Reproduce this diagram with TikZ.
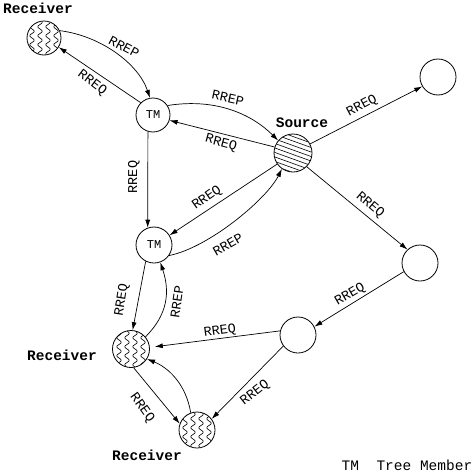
\documentclass[tikz,border=0pt]{standalone}
\usepackage{fontspec}
\setmonofont{Liberation Mono}
\usetikzlibrary{arrows.meta}
\newcommand{\wavyfillx}[2]{%
  \begin{scope}
    \clip (#1.center) circle[radius=#2];
    \foreach \dx in {-12,-4,4,12}
      \draw[line width=0.6pt,shift={(#1.center)}] plot[domain=-24:24,samples=60,smooth] ({\dx+2.2*sin(\x*40)},\x);
  \end{scope}}
\begin{document}
\begin{tikzpicture}[x=1pt,y=-1pt,
  lbl/.style={font=\ttfamily\fontsize{13.5}{14}\selectfont, inner sep=0pt},
  ttl/.style={font=\ttfamily\bfseries\fontsize{14.5}{15}\selectfont, inner sep=0pt},
  nd/.style={circle,draw,line width=0.8pt,inner sep=0pt,minimum size=#1,font=\ttfamily\fontsize{12}{12}\selectfont},
  nd/.default=35pt,
  arr/.style={line width=0.7pt,-{Latex[length=8pt,width=5pt]}}]
\useasboundingbox[fill=white] (0,0) rectangle (474,474);

% nodes
\node[nd=34pt] (r1) at (44,38) {};
\node[nd=34pt] (tm1) at (153,115) {TM};
\node[nd=38pt] (src) at (293,153) {};
\node[nd=36pt] (n1) at (438,77) {};
\node[nd=36pt] (tm2) at (154,245) {TM};
\node[nd=36pt] (n2) at (420,263) {};
\node[nd=36pt] (n3) at (298,335) {};
\node[nd=37pt] (r2) at (131,349) {};
\node[nd=36pt] (r3) at (197,430) {};

% fills
\wavyfillx{r1}{16.6pt}
\wavyfillx{r2}{18.1pt}
\wavyfillx{r3}{17.6pt}
\begin{scope}
  \clip (src.center) circle[radius=18.6pt];
  \foreach \c in {-30,-25.5,...,30}
    \draw[line width=0.6pt,shift={(src.center)}] (-25,{\c-9}) -- (25,{\c+9});
\end{scope}

% connectors
\draw[arr] (r1.25) .. controls +(40,5) and +(-12,-35) .. (tm1.100);
\draw[arr] (tm1.135) -- (r1.-32);
\draw[arr] (tm1.33) .. controls +(50,-8) and +(-25,-25) .. (src.140);
\draw[arr] (src.162) -- (tm1.-18);
\draw[arr] (tm1.-107) -- (tm2.110);
\draw[arr] (src.215) -- (tm2.32);
\draw[arr] (tm2.-35) .. controls +(40,-8) and +(-15,30) .. (src.235);
\draw[arr] (src.28) -- (n1.211);
\draw[arr] (src.-45) -- (n2.133);
\draw[arr] (n2.208) -- (n3.27);
\draw[arr,shorten >=5pt] (n3.167) -- (r2.5);
\draw[arr] (n3.217) -- (r3.37);
\draw[arr] (tm2.243) -- (r2.85);
\draw[arr] (r2.40) .. controls +(22,-22) and +(10,30) .. (tm2.-70);
\draw[arr] (r2.-82) -- (r3.160);
\draw[arr] (r3.110) .. controls +(-5,-30) and +(20,8) .. (r2.-32);

% connector labels
\node[lbl,rotate=-28] (l1) at (124,47) {RREP};
\node[lbl,rotate=-37] (l2) at (92,83) {RREQ};
\node[lbl,rotate=-12] (l3) at (228,98) {RREP};
\node[lbl,rotate=-15] (l4) at (221,143) {RREQ};
\node[lbl,rotate=90] (l5) at (134,177) {RREQ};
\node[lbl,rotate=35] (l6) at (207,198) {RREQ};
\node[lbl,rotate=30] (l7) at (228,245) {RREP};
\node[lbl,rotate=28] (l8) at (362,106) {RREQ};
\node[lbl,rotate=-40] (l9) at (370,205) {RREQ};
\node[lbl,rotate=30] (l10) at (350,295) {RREQ};
\node[lbl,rotate=8] (l11) at (220,331) {RREQ};
\node[lbl,rotate=38] (l12) at (255,393) {RREQ};
\node[lbl,rotate=81] (l13) at (122,300) {RREQ};
\node[lbl,rotate=82] (l14) at (177,302) {RREP};
\node[lbl,rotate=-54] (l15) at (142,408) {RREQ};

% titles
\node[ttl] (t1) at (38,8) {Receiver};
\node[ttl] (t2) at (302,123) {Source};
\node[ttl] (t3) at (62,355) {Receiver};
\node[ttl] (t4) at (147,455) {Receiver};
\node[font=\ttfamily\fontsize{14.5}{15}\selectfont,inner sep=0pt] (leg) at (407,465) {TM\ \ Tree Member};
\end{tikzpicture}
\end{document}
